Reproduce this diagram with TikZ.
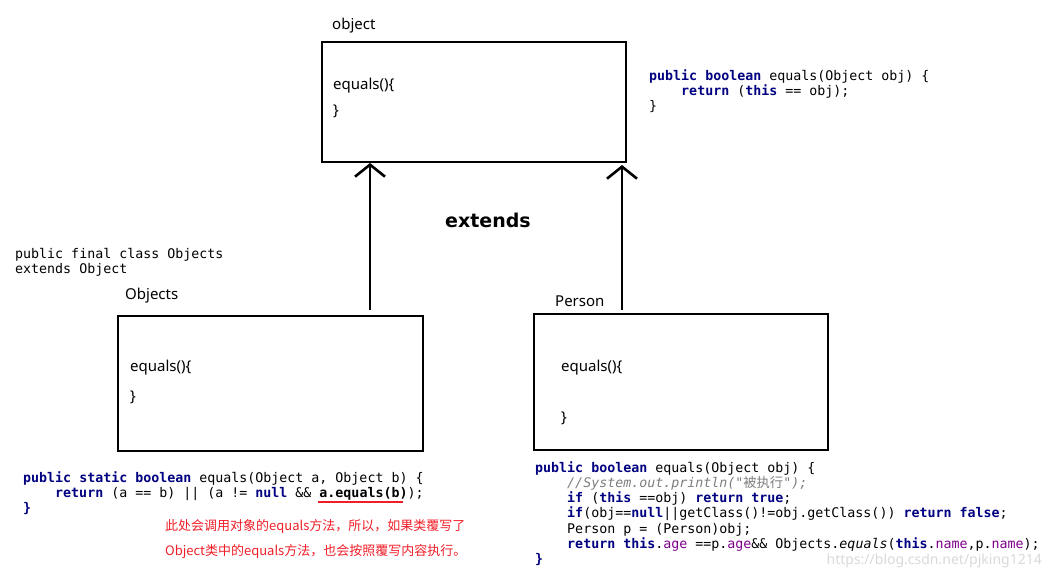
\documentclass[tikz,border=0pt]{standalone}
\usepackage{fontspec}
\setmainfont{Noto Sans}
\setmonofont{DejaVu Sans Mono}
\newfontfamily\cjk{Noto Sans CJK SC}
\newfontfamily\boldfam{DejaVu Sans}
\usetikzlibrary{arrows.meta}
\definecolor{kwc}{RGB}{0,0,128}
\definecolor{fldc}{RGB}{125,0,140}
\definecolor{cmtc}{RGB}{125,125,125}
\definecolor{redc}{RGB}{240,30,40}
\newcommand{\kw}[1]{\textbf{\textcolor{kwc}{#1}}}
\newcommand{\fl}[1]{\textcolor{fldc}{#1}}
\begin{document}
\begin{tikzpicture}[x=1pt,y=-1pt,
  box/.style={draw,line width=2.6pt},
  lbl/.style={anchor=base west,inner sep=0,font=\fontsize{15}{18}\selectfont},
  code/.style={anchor=north west,inner sep=0,align=left,font=\ttfamily\fontsize{13.3}{15.3}\selectfont},
  arr/.style={line width=2.6pt,-{Straight Barb[length=12pt,width=30pt,line width=2.6pt]}}]
\useasboundingbox (0,0) rectangle (1048,577);
\draw[box] (322,42) rectangle (626,162);
\draw[box] (118,316) rectangle (423,451);
\draw[box] (534,314) rectangle (828,450);
\node[lbl] (tobj) at (332,30) {object};
\node[lbl] (teq1) at (333,90) {equals()\{};
\node[lbl] (tcl1) at (333,116) {\}};
\node[lbl] (tObjs) at (125,299) {Objects};
\node[lbl] (teq2) at (130,371) {equals()\{};
\node[lbl] (tcl2) at (130,401) {\}};
\node[lbl] (tPer) at (555,306) {Person};
\node[lbl] (teq3) at (561,371) {equals()\{};
\node[lbl] (tcl3) at (561,422) {\}};
\node[anchor=base,inner sep=0,font=\boldfam\bfseries\fontsize{19}{24}\selectfont] (ext) at (488,228) {extends};
\coordinate (a1s) at (370,310); \coordinate (a1e) at (370,163);
\coordinate (a2s) at (622,310); \coordinate (a2e) at (622,165);
\draw[arr] (a1s) -- (a1e);
\draw[arr] (a2s) -- (a2e);
\node[code] (c0) at (649,69) {\kw{public} \kw{boolean} equals(Object obj) \{\\
\ \ \ \ \kw{return} (\kw{this} == obj);\\
\}};
\node[code] (c1) at (15,248) {public final class Objects\\extends Object};
\node[code] (c2) at (23,471) {\kw{public} \kw{static} \kw{boolean} equals(Object a, Object b) \{\\
\ \ \ \ \kw{return} (a == b) || (a != \kw{null} \&\& \textbf{a.equals(b)});\\
\kw{\}}};
\coordinate (u1) at (318,502); \coordinate (u2) at (403,502);
\draw[redc,line width=2pt] (u1) -- (u2);
\node[anchor=north west,inner sep=0,text=redc,font=\cjk\fontsize{13}{25}\selectfont,align=left] (cn) at (165,519) {此处会调用对象的equals方法，所以，如果类覆写了\\Object类中的equals方法，也会按照覆写内容执行。};
\node[code] (c3) at (535,461) {\kw{public} \kw{boolean} equals(Object obj) \{\\
\ \ \ \ \textcolor{cmtc}{\textit{//System.out.println("{\cjk 被执行}");}}\\
\ \ \ \ \kw{if} (\kw{this} ==obj) \kw{return} \kw{true};\\
\ \ \ \ \kw{if}(obj==\kw{null}||getClass()!=obj.getClass()) \kw{return} \kw{false};\\
\ \ \ \ Person p = (Person)obj;\\
\ \ \ \ \kw{return} \kw{this}.\fl{age} ==p.\fl{age}\&\& Objects.\textit{equals}(\kw{this}.\fl{name},p.\fl{name});\\
\kw{\}}};
\node[anchor=base east,inner sep=0,text=black!15,font=\fontsize{14}{16}\selectfont] (wm) at (1042,564) {https://blog.csdn.net/pjking1214};
\end{tikzpicture}
\end{document}
